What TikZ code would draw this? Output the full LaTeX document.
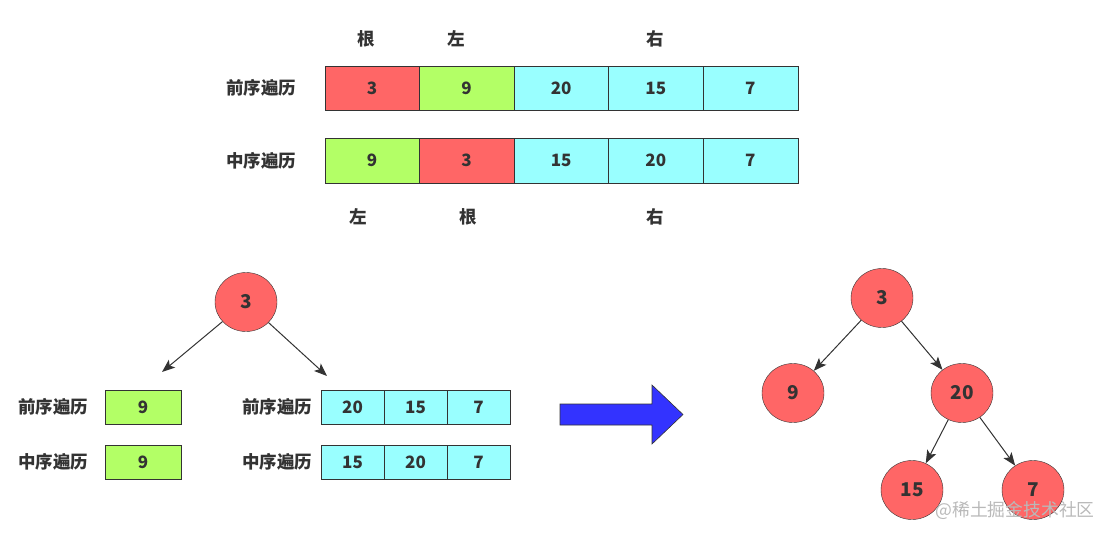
\documentclass[tikz,border=0pt]{standalone}
\usepackage{fontspec}
\setmainfont{Noto Sans CJK SC}
\usetikzlibrary{positioning}
\usetikzlibrary{shapes.geometric}
\usetikzlibrary{arrows.meta}
\definecolor{rootred}{HTML}{FF6666}
\definecolor{leftgreen}{HTML}{B3FF66}
\definecolor{rightcyan}{HTML}{99FFFF}
\definecolor{bigblue}{HTML}{3333FF}
\definecolor{ink}{HTML}{333333}
\tikzset{
    cell/.style = {rectangle, draw=ink, fill=#1, minimum width=94.6pt, minimum height=44.5pt, inner sep=0pt, text=ink, font=\fontsize{17}{17}\selectfont\bfseries},
    subcell/.style = {rectangle, draw=ink, fill=#1, minimum width=63pt, minimum height=34pt, inner sep=0pt, text=ink, font=\fontsize{17}{17}\selectfont\bfseries},
    rowlabel/.style = {text=ink, font=\fontsize{17.5}{17.5}\selectfont\bfseries},
    partlabel/.style = {text=ink, font=\fontsize{17.5}{17.5}\selectfont\bfseries},
    treenode/.style = {ellipse, draw=ink, fill=rootred, minimum width=62pt, minimum height=59pt, inner sep=0pt, text=ink, font=\fontsize{19}{19}\selectfont\bfseries},
    edgen/.style = {-{Stealth[length=13pt,width=10pt,inset=3pt]}, draw=ink, fill=none, line width=1pt},
    bigarrow/.style = {draw=ink, fill=bigblue, line width=0.6pt},
    mark wm/.style = {text=gray!55, font=\fontsize{17.8}{17.8}\selectfont}
}
\begin{document}
\begin{tikzpicture}[x=1pt,y=-1pt]
\useasboundingbox (0,0) rectangle (1111,538);
%
% preorder / inorder of the whole tree
\node[rowlabel] at (261, 88) (pre) {前序遍历};
\node[rowlabel] at (261, 161) (in) {中序遍历};
\node[cell=rootred] at (372, 88) (p1) {3};
\node[cell=leftgreen] at (466.6, 88) (p2) {9};
\node[cell=rightcyan] at (561.2, 88) (p3) {20};
\node[cell=rightcyan] at (655.8, 88) (p4) {15};
\node[cell=rightcyan] at (750.4, 88) (p5) {7};
\node[cell=leftgreen] at (372, 160.5) (i1) {9};
\node[cell=rootred] at (466.6, 160.5) (i2) {3};
\node[cell=rightcyan] at (561.2, 160.5) (i3) {15};
\node[cell=rightcyan] at (655.8, 160.5) (i4) {20};
\node[cell=rightcyan] at (750.4, 160.5) (i5) {7};
\node[partlabel] at (366, 39) (pgen) {根};
\node[partlabel] at (456, 39) (pzuo) {左};
\node[partlabel] at (655, 39) (pyou) {右};
\node[partlabel] at (358, 217) (izuo) {左};
\node[partlabel] at (468, 217) (igen) {根};
\node[partlabel] at (655, 217) (iyou) {右};
%
% first split
\node[treenode] at (246, 302) (r) {3};
\coordinate (lt) at (162, 372);
\coordinate (rt) at (327, 376);
\draw[edgen] (r) -- (lt);
\draw[edgen] (r) -- (rt);
\node[rowlabel] at (53, 407) (lpre) {前序遍历};
\node[rowlabel] at (53, 462) (lin) {中序遍历};
\node[subcell=leftgreen, minimum width=76pt] at (143, 407) (lp) {9};
\node[subcell=leftgreen, minimum width=76pt] at (143, 462) (li) {9};
\node[rowlabel] at (277, 407) (rpre) {前序遍历};
\node[rowlabel] at (277, 462) (rin) {中序遍历};
\node[subcell=rightcyan] at (352.5, 407) (rp1) {20};
\node[subcell=rightcyan] at (415.5, 407) (rp2) {15};
\node[subcell=rightcyan] at (478.5, 407) (rp3) {7};
\node[subcell=rightcyan] at (352.5, 462) (ri1) {15};
\node[subcell=rightcyan] at (415.5, 462) (ri2) {20};
\node[subcell=rightcyan] at (478.5, 462) (ri3) {7};
%
\path[bigarrow] (560,404) -- (652,404) -- (652,385) -- (683,414.5) -- (652,444) -- (652,425) -- (560,425) -- cycle;
%
% rebuilt tree
\node[treenode] at (882, 298) (t3) {3};
\node[treenode] at (793, 393) (t9) {9};
\node[treenode] at (962, 393) (t20) {20};
\node[treenode] at (912, 490) (t15) {15};
\node[treenode] at (1033, 490) (t7) {7};
\draw[edgen] (t3) -- (t9);
\draw[edgen] (t3) -- (t20);
\draw[edgen] (t20) -- (t15);
\draw[edgen] (t20) -- (t7);
%
\node[mark wm] at (1015, 510) (wm) {@稀土掘金技术社区};

\end{tikzpicture}
\end{document}
